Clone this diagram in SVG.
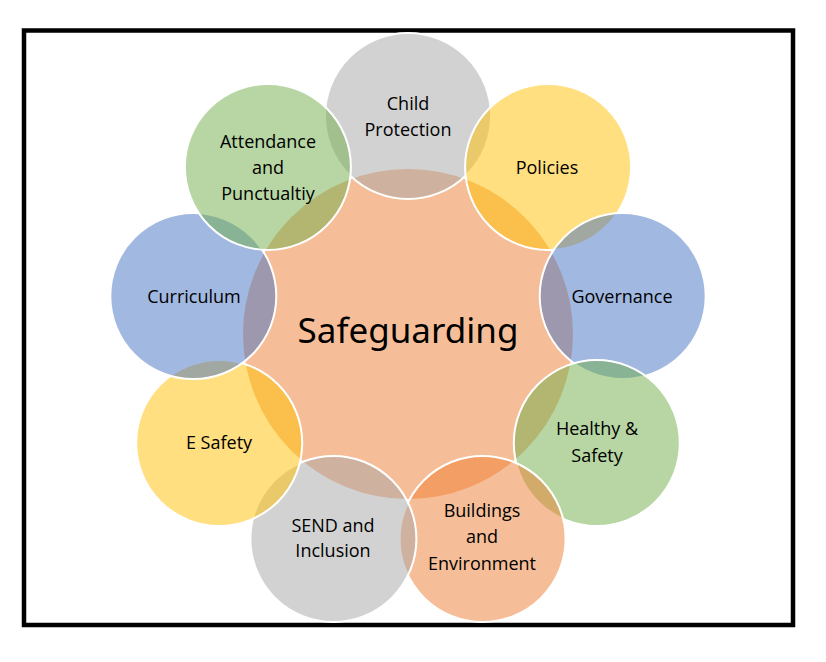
<svg xmlns="http://www.w3.org/2000/svg" width="826" height="662" viewBox="0 0 826 662">
<style>
.c{stroke:#ffffff;stroke-width:2;fill-opacity:0.5}
.gray{fill:#A5A5A5}
.orange{fill:#ED7D31}
.yellow{fill:#FFC000}
.blue{fill:#4472C4}
.green{fill:#70AD47}
.lbl{font-family:"Open Sans","Noto Sans",sans-serif;font-size:18px;fill:#000;text-anchor:middle}
.title{font-family:"Noto Sans","Open Sans",sans-serif;font-size:35px;fill:#000;text-anchor:middle}
</style>
<rect x="0" y="0" width="826" height="662" fill="#ffffff"/>
<rect x="24" y="30.5" width="769" height="594.5" fill="none" stroke="#000" stroke-width="4.5"/>
<g id="safeguarding">
<circle class="c orange" cx="408" cy="334" r="166"/>
</g>
<g id="child-protection">
<circle class="c gray" cx="408" cy="116" r="83"/>
<text class="lbl"><tspan x="408" y="110">Child</tspan><tspan x="408" y="136">Protection</tspan></text>
</g>
<g id="policies">
<circle class="c yellow" cx="548.1" cy="167" r="83"/>
<text class="lbl" x="547" y="174">Policies</text>
</g>
<g id="governance">
<circle class="c blue" cx="622.7" cy="296.1" r="83"/>
<text class="lbl" x="622" y="303">Governance</text>
</g>
<g id="healthy-safety">
<circle class="c green" cx="596.8" cy="443" r="83"/>
<text class="lbl"><tspan x="597" y="435">Healthy &amp;</tspan><tspan x="597" y="462">Safety</tspan></text>
</g>
<g id="buildings-environment">
<circle class="c orange" cx="482.6" cy="538.9" r="83"/>
<text class="lbl"><tspan x="482" y="517">Buildings</tspan><tspan x="482" y="543">and</tspan><tspan x="482" y="570">Environment</tspan></text>
</g>
<g id="send-inclusion">
<circle class="c gray" cx="333.4" cy="538.9" r="83"/>
<text class="lbl"><tspan x="333" y="532">SEND and</tspan><tspan x="333" y="557">Inclusion</tspan></text>
</g>
<g id="e-safety">
<circle class="c yellow" cx="219.2" cy="443" r="83"/>
<text class="lbl" x="219" y="449">E Safety</text>
</g>
<g id="curriculum">
<circle class="c blue" cx="193.3" cy="296.1" r="83"/>
<text class="lbl" x="194" y="303">Curriculum</text>
</g>
<g id="attendance-punctuality">
<circle class="c green" cx="267.9" cy="167" r="83"/>
<text class="lbl"><tspan x="268" y="148">Attendance</tspan><tspan x="268" y="174">and</tspan><tspan x="268" y="200">Punctualtiy</tspan></text>
</g>
<g id="connectors"></g>
<text class="title" x="408" y="343">Safeguarding</text>
</svg>
